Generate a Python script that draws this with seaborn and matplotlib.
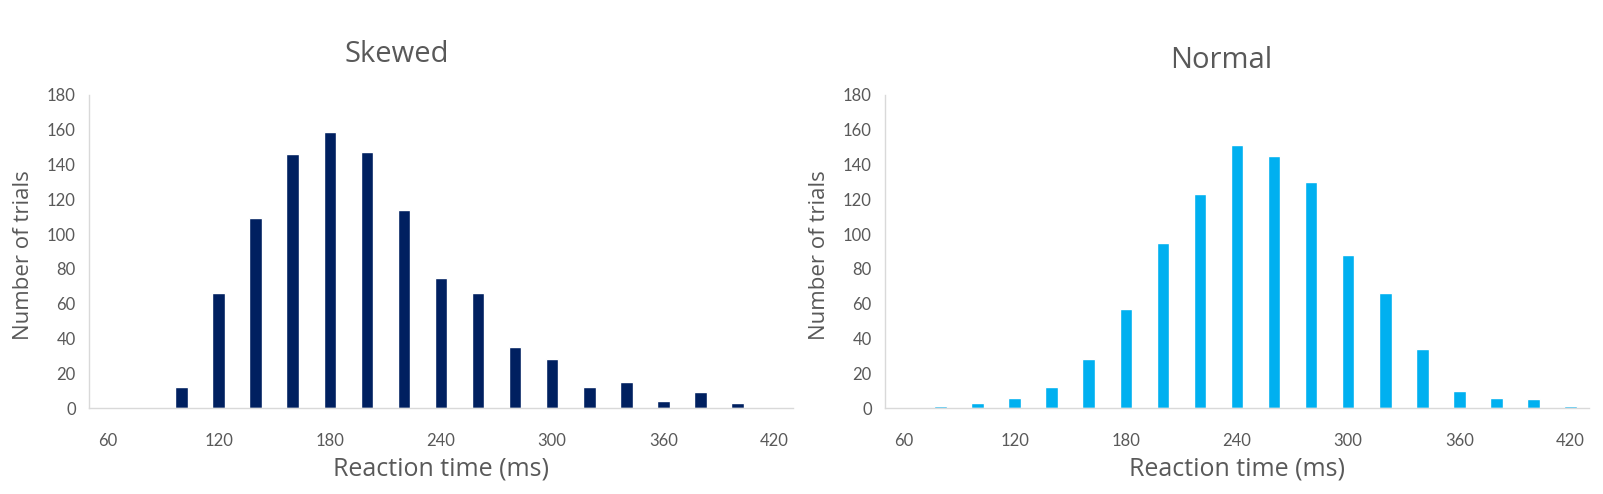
import numpy as np
import pandas as pd
import matplotlib
matplotlib.use('Agg')
import matplotlib.pyplot as plt
import seaborn as sns

# Reaction time bins (ms)
rt_bins = [60, 80, 100, 120, 140, 160, 180, 200, 220, 240,
           260, 280, 300, 320, 340, 360, 380, 400, 420]
skewed_counts = [0, 0, 12, 66, 109, 146, 159, 147, 114, 75,
                 66, 35, 28, 12, 15, 4, 9, 3, 0]
normal_counts = [0, 1, 3, 6, 12, 28, 57, 95, 123, 151,
                 145, 130, 88, 66, 34, 10, 6, 5, 1]

panels = [
    ('Skewed', skewed_counts, '#002060'),
    ('Normal', normal_counts, '#00B0F0'),
]

TEXT = '#595959'
AXIS = '#d9d9d9'

sns.set_style('white')
plt.rcParams['font.family'] = ['Open Sans', 'DejaVu Sans']

W, H = 1603, 494
fig = plt.figure(figsize=(W / 100, H / 100), dpi=100)

# pixel boxes (left, top, right, bottom) of each plot area
boxes = [(89, 95, 793, 408), (885, 95, 1589, 408)]
title_pos = [(397, 55), (1221, 60)]

for (name, counts, color), (l, t, r, b), (tx, ty) in zip(panels, boxes, title_pos):
    ax = fig.add_axes([l / W, 1 - b / H, (r - l) / W, (b - t) / H])
    df = pd.DataFrame({'rt': [str(v) for v in rt_bins], 'count': counts})
    sns.barplot(data=df, x='rt', y='count', color=color, width=0.34,
                saturation=1, ax=ax)
    ax.set_xlim(-0.5, len(rt_bins) - 0.5)
    ax.set_ylim(0, 180)
    ax.set_yticks(np.arange(0, 181, 20))

    ax.set_xticks(range(len(rt_bins)))
    ax.set_xticklabels([str(v) if i % 3 == 0 else '' for i, v in enumerate(rt_bins)])
    ax.set_xticks([len(rt_bins) - 0.5], minor=True)

    for side in ['top', 'right']:
        ax.spines[side].set_visible(False)
    for side in ['left', 'bottom']:
        ax.spines[side].set_color(AXIS)
        ax.spines[side].set_linewidth(1.0)

    ax.tick_params(axis='x', which='both', direction='out', length=4,
                   color=AXIS, labelcolor=TEXT, labelsize=12, pad=14)
    ax.tick_params(axis='y', direction='inout', length=7, color=AXIS,
                   labelcolor=TEXT, labelsize=12, pad=6)
    for lbl in ax.get_xticklabels() + ax.get_yticklabels():
        lbl.set_family(['Lato', 'DejaVu Sans'])

    ax.set_xlabel('Reaction time (ms)', fontsize=18, color=TEXT)
    ax.xaxis.set_label_coords(0.5, -0.196)
    ax.xaxis.label.set_va('center')
    ax.set_ylabel('Number of trials', fontsize=16, color=TEXT)
    ax.yaxis.set_label_coords(-0.093, 0.49)
    ax.yaxis.label.set_va('center')

    fig.text(tx / W, 1 - ty / H, name, fontsize=21, color=TEXT,
             ha='center', va='center')

fig.savefig('out.png', dpi=100, facecolor='white')
plt.close(fig)
